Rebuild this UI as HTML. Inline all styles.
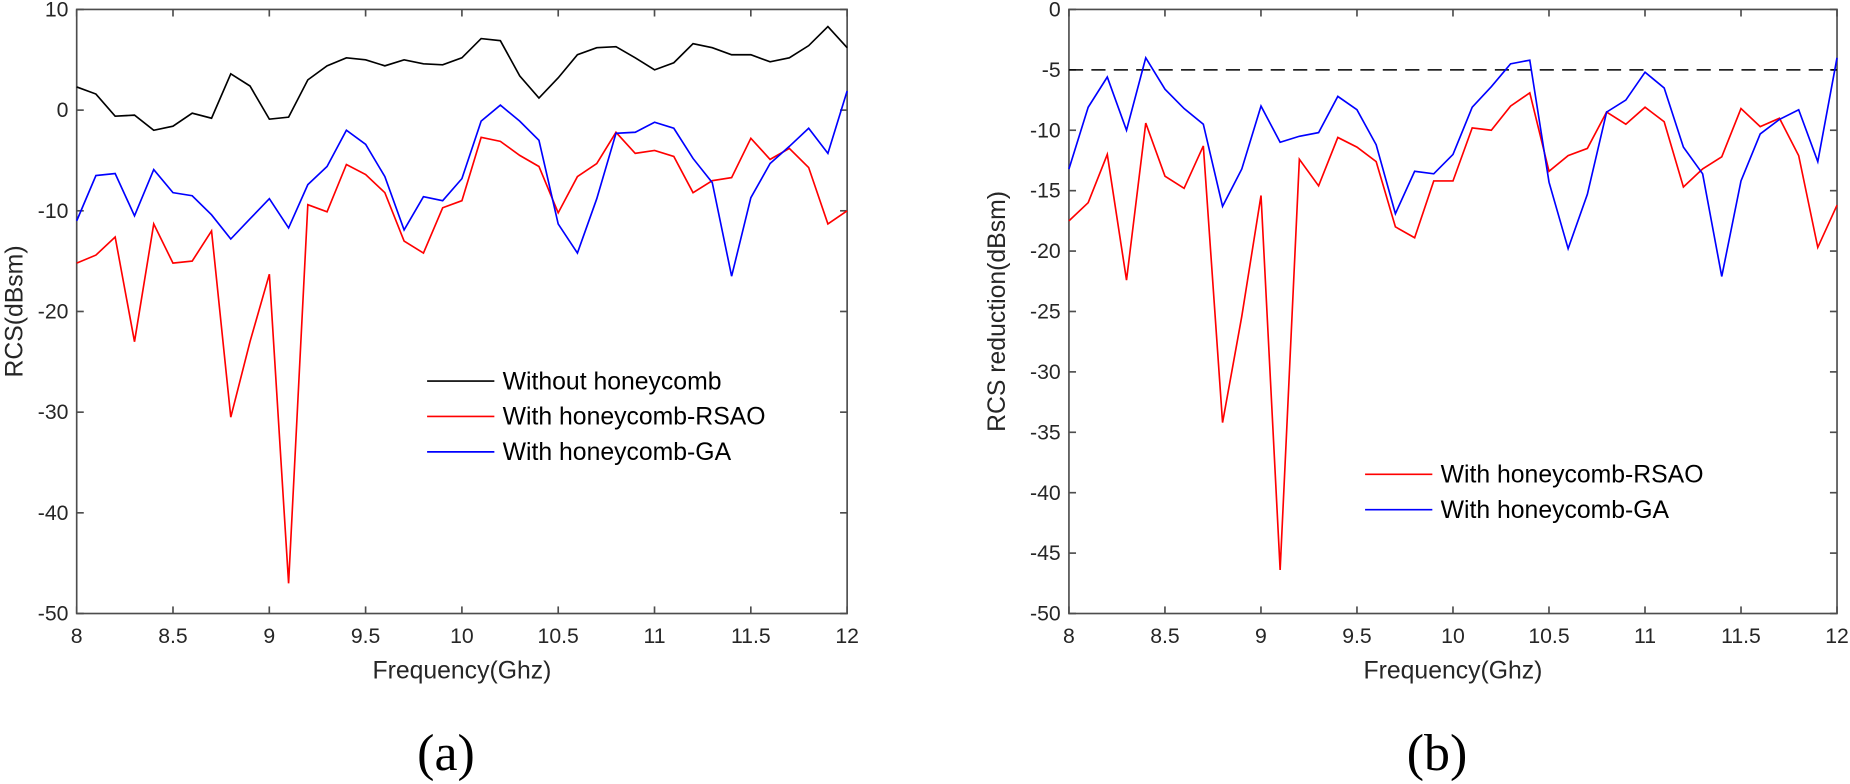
<!DOCTYPE html>
<html><head><meta charset="utf-8"><style>
html,body{margin:0;padding:0;background:#fff;}
svg{display:block;font-family:"Liberation Sans",sans-serif;}
</style></head><body>
<svg id="fig" width="1850" height="784" viewBox="0 0 1568 664.5" preserveAspectRatio="none"></svg>
<script>
const freqs = [];
for (let i = 0; i <= 40; i++) freqs.push(+(8 + i * 0.1).toFixed(1));
const aWithout = [2.3,1.6,-0.6,-0.5,-2.0,-1.6,-0.3,-0.8,3.6,2.4,-0.9,-0.7,3.0,4.4,5.2,5.0,4.4,5.0,4.6,4.5,5.2,7.1,6.9,3.4,1.2,3.2,5.5,6.2,6.3,5.2,4.0,4.7,6.6,6.2,5.5,5.5,4.8,5.2,6.4,8.3,6.2];
const aRSAO = [-15.2,-14.4,-12.6,-23.0,-11.3,-15.2,-15.0,-12.0,-30.5,-23.0,-16.3,-47.0,-9.4,-10.1,-5.4,-6.4,-8.2,-13.0,-14.2,-9.7,-9.0,-2.7,-3.1,-4.5,-5.6,-10.2,-6.6,-5.3,-2.2,-4.3,-4.0,-4.6,-8.2,-7.0,-6.7,-2.8,-4.9,-3.8,-5.7,-11.3,-10.0];
const aGA = [-11,-6.5,-6.3,-10.5,-5.9,-8.2,-8.5,-10.4,-12.8,-10.8,-8.8,-11.7,-7.4,-5.6,-2.0,-3.4,-6.6,-11.9,-8.6,-9.0,-6.8,-1.1,0.5,-1.1,-3.0,-11.3,-14.2,-8.8,-2.3,-2.2,-1.2,-1.8,-4.8,-7.2,-16.5,-8.7,-5.3,-3.6,-1.8,-4.3,1.9];
const bRSAO = [-17.5,-16,-12,-22.4,-9.4,-13.8,-14.8,-11.3,-34.2,-25.4,-15.4,-46.4,-12.4,-14.6,-10.6,-11.4,-12.6,-18,-18.9,-14.2,-14.2,-9.8,-10,-8,-6.9,-13.4,-12.1,-11.5,-8.5,-9.5,-8.1,-9.3,-14.7,-13.2,-12.2,-8.2,-9.7,-9,-12.1,-19.7,-16.2];
const bGA = [-13.2,-8.1,-5.6,-10,-4,-6.6,-8.2,-9.5,-16.3,-13.2,-8,-11,-10.5,-10.2,-7.2,-8.3,-11.2,-16.9,-13.4,-13.6,-12,-8.1,-6.4,-4.5,-4.2,-14.3,-19.8,-15.3,-8.5,-7.5,-5.2,-6.5,-11.4,-13.6,-22.1,-14.2,-10.3,-9.1,-8.3,-12.6,-4];
const xTicks = [8,8.5,9,9.5,10,10.5,11,11.5,12];
const xTickLabels = ["8","8.5","9","9.5","10","10.5","11","11.5","12"];
const aYTicks = [10,0,-10,-20,-30,-40,-50];
const bYTicks = [0,-5,-10,-15,-20,-25,-30,-35,-40,-45,-50];
const bThreshold = [-5];

const NS = "http://www.w3.org/2000/svg";
const svg = document.getElementById("fig");
function mk(tag, attrs, parent) {
  const e = document.createElementNS(NS, tag);
  for (const k in attrs) e.setAttribute(k, attrs[k]);
  (parent || svg).appendChild(e);
  return e;
}

function panel(cfg) {
  const g = mk("g", {});
  
  
  const sx = v => cfg.x0 + (v - 8) / 4 * (cfg.x1 - cfg.x0);
  const sy = v => cfg.y0 + (cfg.ymax - v) / (cfg.ymax - cfg.ymin) * (cfg.y1 - cfg.y0);
  const box = mk("rect", {x: cfg.x0, y: cfg.y0, width: cfg.x1 - cfg.x0, height: cfg.y1 - cfg.y0, fill: "none", stroke: "#4d4d4d", "stroke-width": 1.4}, g);
  
  
  xTicks.forEach((t, i) => {
    const x = sx(t);
    mk("line", {x1: x, x2: x, y1: cfg.y1, y2: cfg.y1 - 6, stroke: "#4d4d4d", "stroke-width": 1.4}, g);
    mk("line", {x1: x, x2: x, y1: cfg.y0, y2: cfg.y0 + 6, stroke: "#4d4d4d", "stroke-width": 1.4}, g);
    const tx = mk("text", {x: x, y: cfg.y1 + 25, "text-anchor": "middle", "font-size": 18, fill: "#262626"}, g);
    tx.textContent = xTickLabels[i];
    
    
  });
  cfg.yTicks.forEach(t => {
    const y = sy(t);
    mk("line", {x1: cfg.x0, x2: cfg.x0 + 6, y1: y, y2: y, stroke: "#4d4d4d", "stroke-width": 1.4}, g);
    mk("line", {x1: cfg.x1, x2: cfg.x1 - 6, y1: y, y2: y, stroke: "#4d4d4d", "stroke-width": 1.4}, g);
    const tx = mk("text", {x: cfg.x0 - 7, y: y + 6, "text-anchor": "end", "font-size": 18, fill: "#262626"}, g);
    tx.textContent = String(t);
    
    
  });
  if (cfg.threshold) {
    const y = sy(cfg.threshold[0]);
    const dl = mk("line", {x1: cfg.x0, x2: cfg.x1, y1: y, y2: y, stroke: "#000", "stroke-width": 1.3, "stroke-dasharray": "12 7"}, g);
    
    
  }
  cfg.series.forEach(s => {
    const pts = s.data.map((v, i) => sx(freqs[i]).toFixed(1) + "," + sy(v).toFixed(1)).join(" ");
    const pl = mk("polyline", {points: pts, fill: "none", stroke: s.color, "stroke-width": 1.4}, g);
    
    
  });
  const xl = mk("text", {x: (cfg.x0 + cfg.x1) / 2, y: cfg.y1 + 55, "text-anchor": "middle", "font-size": 21, fill: "#262626"}, g);
  xl.textContent = "Frequency(Ghz)";
  
  
  const yl = mk("text", {x: 0, y: 0, "text-anchor": "middle", "font-size": 21, fill: "#262626", transform: `translate(${cfg.ylx},${(cfg.y0 + cfg.y1) / 2}) rotate(-90)`}, g);
  yl.textContent = cfg.ylabel;
  
  
  const lg = mk("g", {}, g);
  
  
  cfg.series.forEach((s, i) => {
    const y = cfg.legY + i * 30;
    mk("line", {x1: cfg.legX, x2: cfg.legX + 57, y1: y, y2: y, stroke: s.color, "stroke-width": 1.4}, lg);
    const t = mk("text", {x: cfg.legX + 64, y: y + 7, "font-size": 21, fill: "#000"}, lg);
    t.textContent = s.label;
    
    
  });
  const cap = mk("text", {x: cfg.capX, y: 770 / 1.18, "text-anchor": "middle", "font-size": 44, "font-family": "Liberation Serif, serif", fill: "#000"}, g);
  cap.textContent = cfg.caption;
  
  
}

panel({name: "chart-a", x0: 65, x1: 718, y0: 8, y1: 520, ymax: 10, ymin: -50, yTicks: aYTicks, ylx: 19,
  ylabel: "RCS(dBsm)", legX: 362, legY: 323, capX: 378, caption: "(a)",
  series: [
    {data: aWithout, color: "#000", label: "Without honeycomb", name: "line-without-honeycomb"},
    {data: aRSAO, color: "#ff0000", label: "With honeycomb-RSAO", name: "line-rsao"},
    {data: aGA, color: "#0000ff", label: "With honeycomb-GA", name: "line-ga"}
  ]});
panel({name: "chart-b", x0: 906, x1: 1557, y0: 8, y1: 520, ymax: 0, ymin: -50, yTicks: bYTicks, ylx: 852,
  ylabel: "RCS reduction(dBsm)", legX: 1157, legY: 402, capX: 1218, caption: "(b)", threshold: bThreshold,
  series: [
    {data: bRSAO, color: "#ff0000", label: "With honeycomb-RSAO", name: "line-rsao"},
    {data: bGA, color: "#0000ff", label: "With honeycomb-GA", name: "line-ga"}
  ]});
</script>
</body></html>
